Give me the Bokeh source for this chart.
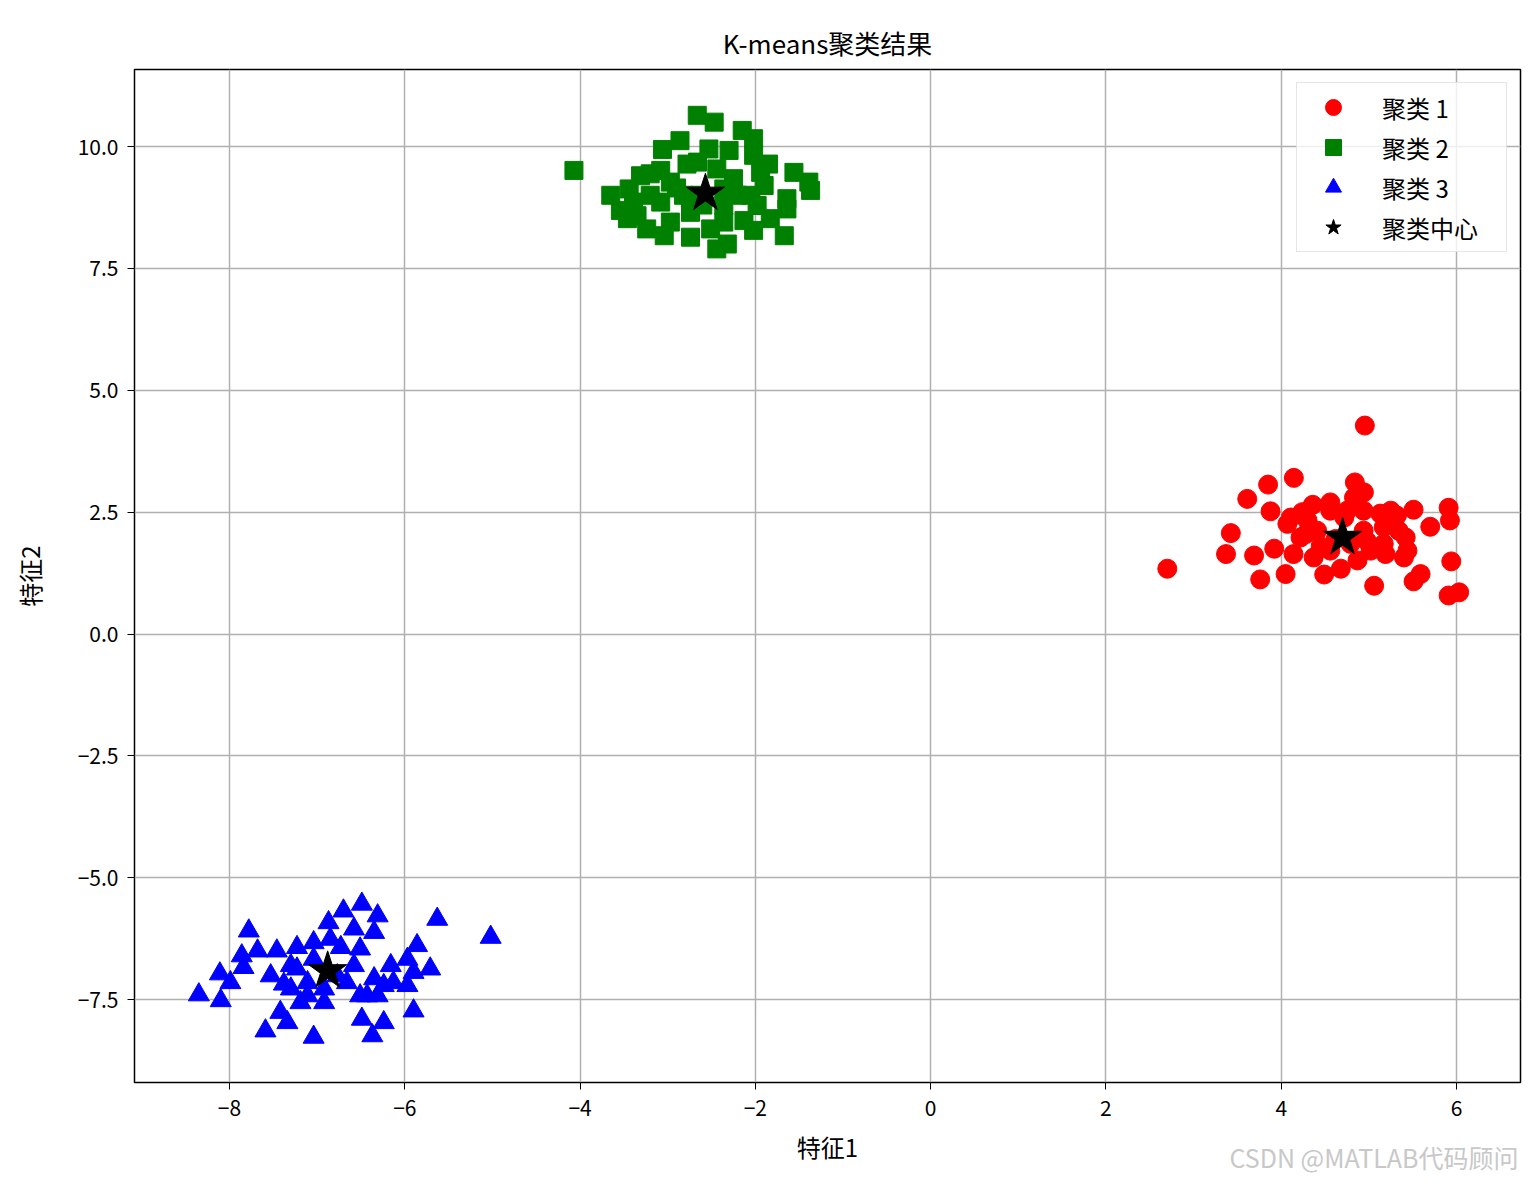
from bokeh.plotting import figure
from bokeh.models import Range1d, FixedTicker, Legend, LegendItem, Title
from bokeh.embed import file_html
from bokeh.resources import INLINE

# ---- data ----
c1_x = [4.954, 4.144, 3.85, 3.612, 3.878, 4.84, 4.943, 4.83, 4.56, 4.36, 4.24, 5.13, 5.32, 5.51, 5.91,
        5.925, 5.70, 5.42, 5.40, 5.19, 5.02, 5.94, 5.59, 5.51, 5.91, 6.03, 5.06, 4.49, 4.68, 4.05,
        3.76, 3.425, 3.37, 3.69, 3.92, 2.70, 4.07, 4.14, 4.37, 4.22, 4.41, 4.56, 4.79, 4.94, 5.17,
        5.34, 4.87, 4.72, 4.11, 4.30, 5.17, 5.44, 4.94, 4.56, 4.75, 5.25, 4.62, 4.45, 4.98, 4.28]
c1_y = [4.276, 3.203, 3.065, 2.772, 2.517, 3.11, 2.907, 2.80, 2.70, 2.65, 2.50, 2.47, 2.43, 2.55, 2.59,
        2.33, 2.20, 1.98, 1.57, 1.64, 1.71, 1.49, 1.23, 1.08, 0.79, 0.855, 0.99, 1.22, 1.34, 1.23,
        1.12, 2.07, 1.64, 1.61, 1.75, 1.34, 2.26, 1.64, 1.57, 1.98, 2.12, 1.71, 1.85, 2.12, 2.19,
        2.12, 1.51, 2.39, 2.39, 2.33, 1.85, 1.71, 2.53, 2.53, 2.53, 2.53, 1.95, 1.80, 1.90, 2.05]

c2_x = [-2.663, -2.47, -4.07, -2.15, -2.02, -2.86, -3.06, -2.53, -2.30, -2.02, -2.78, -3.20, -3.08, -1.85,
        -1.56, -1.39, -1.37, -3.65, -3.44, -3.54, -3.35, -3.24, -3.04, -2.74, -2.44, -2.32, -2.02, -1.67,
        -1.64, -1.64, -1.83, -2.13, -1.94, -1.90, -2.05, -2.25, -2.44, -2.66, -2.97, -2.82, -3.08, -3.39,
        -3.46, -2.97, -2.74, -2.36, -2.51, -2.21, -2.36, -3.20, -3.31, -1.98, -2.63, -2.36, -2.60, -2.90]
c2_y = [10.64, 10.50, 9.51, 10.33, 10.16, 10.12, 9.94, 9.95, 9.92, 9.82, 9.64, 9.44, 9.51, 9.64,
        9.47, 9.27, 9.10, 9.00, 9.13, 8.69, 8.58, 8.31, 8.17, 8.14, 7.90, 8.00, 8.28, 8.17,
        8.72, 8.93, 8.52, 8.48, 9.47, 9.20, 9.00, 9.34, 9.54, 9.68, 9.27, 9.00, 8.86, 8.86,
        8.52, 8.45, 8.65, 8.79, 8.31, 9.00, 9.13, 9.00, 9.40, 8.79, 9.00, 8.45, 8.80, 9.15]

c3_x = [-8.35, -8.10, -8.11, -7.99, -7.78, -7.86, -7.68, -7.84, -7.59, -7.46, -7.53, -7.42, -7.34, -7.23,
        -7.30, -7.38, -7.04, -7.04, -6.87, -6.70, -6.49, -6.31, -6.58, -6.35, -6.73, -6.51, -7.23, -7.11,
        -6.92, -6.66, -6.58, -6.35, -6.24, -6.16, -6.13, -5.97, -5.90, -5.86, -5.71, -5.63, -5.02, -5.90,
        -6.24, -6.37, -6.49, -6.92, -7.19, -7.30, -6.43, -6.85, -7.04, -6.77, -6.51, -7.11, -6.31, -5.97]
c3_y = [-7.40, -7.52, -6.97, -7.15, -6.09, -6.60, -6.50, -6.84, -8.14, -6.50, -7.01, -7.76, -7.97, -6.43,
        -6.80, -7.18, -8.27, -6.33, -5.92, -5.68, -5.54, -5.78, -6.05, -6.12, -6.43, -6.46, -6.87, -7.15,
        -7.28, -7.15, -6.80, -7.07, -7.21, -6.80, -7.15, -6.67, -6.94, -6.39, -6.87, -5.85, -6.22, -7.73,
        -7.97, -8.24, -7.90, -7.56, -7.56, -7.28, -7.42, -6.26, -6.67, -7.01, -7.42, -7.42, -7.42, -7.21]

center_x = [4.70, -2.57, -6.88]
center_y = [1.98, 9.04, -6.91]

x_ticks = [-8, -6, -4, -2, 0, 2, 4, 6]
y_ticks = [-7.5, -5.0, -2.5, 0.0, 2.5, 5.0, 7.5, 10.0]

FONT = "Noto Sans CJK SC"

p = figure(width=1528, height=1184, output_backend="svg", toolbar_location=None,
           x_range=Range1d(-9.084, 6.73), y_range=Range1d(-9.20, 11.58),
           min_border_left=134, min_border_right=8, min_border_top=69, min_border_bottom=102)

p.title.text = "K-means聚类结果"
p.title.align = "center"
p.title.text_font = FONT
p.title.text_font_size = "26px"
p.title.text_font_style = "normal"
p.title.text_color = "black"
p.title.standoff = 18

p.outline_line_color = "black"
p.outline_line_width = 1.5
p.outline_line_alpha = 1.0

for ax in (p.xaxis, p.yaxis):
    ax.major_label_text_font = FONT
    ax.major_label_text_font_size = "21px"
    ax.major_label_text_color = "black"
    ax.axis_label_text_font = FONT
    ax.axis_label_text_font_size = "24px"
    ax.axis_label_text_font_style = "normal"
    ax.axis_label_text_color = "black"
    ax.major_tick_in = 0
    ax.major_tick_out = 7
    ax.minor_tick_line_color = None
    ax.axis_line_color = None
    ax.major_tick_line_color = "black"

p.xaxis.major_label_standoff = 10
p.xaxis.axis_label_standoff = 10
p.yaxis.major_label_standoff = 9
p.yaxis.axis_label_standoff = 28

p.xaxis.ticker = FixedTicker(ticks=x_ticks)
p.yaxis.ticker = FixedTicker(ticks=y_ticks)
p.xaxis.major_label_overrides = {t: (str(t) if t >= 0 else "\u2212" + str(-t)) for t in x_ticks}
p.yaxis.major_label_overrides = {t: (f"{t:.1f}" if t >= 0 else "\u2212" + f"{-t:.1f}") for t in y_ticks}
p.xaxis.axis_label = "特征1"
p.yaxis.axis_label = "特征2"

p.grid.grid_line_color = "#b0b0b0"
p.grid.grid_line_width = 1.5
p.xgrid.ticker = FixedTicker(ticks=x_ticks)
p.ygrid.ticker = FixedTicker(ticks=y_ticks)

r1 = p.scatter(c1_x, c1_y, marker="circle", size=19, fill_color="red", line_color="red")
r2 = p.scatter(c2_x, c2_y, marker="square", size=18, fill_color="green", line_color="green")
r3 = p.scatter(c3_x, c3_y, marker="triangle", size=21, fill_color="blue", line_color="blue")
r4 = p.scatter(center_x, center_y, marker="star", size=40, fill_color="black", line_color="black")

legend = Legend(items=[
    LegendItem(label="聚类 1", renderers=[r1]),
    LegendItem(label="聚类 2", renderers=[r2]),
    LegendItem(label="聚类 3", renderers=[r3]),
    LegendItem(label="聚类中心", renderers=[r4]),
], location="top_right")
legend.label_text_font = FONT
legend.label_text_font_size = "24px"
legend.label_text_color = "black"
legend.border_line_color = "#cccccc"
legend.border_line_width = 1.5
legend.background_fill_alpha = 0.8
legend.glyph_width = 64
legend.glyph_height = 40
legend.label_height = 40
legend.label_width = 120
legend.label_standoff = 17
legend.spacing = 0
legend.padding = 4
legend.margin = 13
p.add_layout(legend)

wm = Title(text="CSDN @MATLAB代码顾问", align="right", text_color="#c8c8c8",
           text_font=FONT, text_font_size="25px", text_font_style="normal",
           vertical_align="top", standoff=-56, offset=2)
p.add_layout(wm, "below")

open("out.html", "w").write(file_html(p, INLINE))
